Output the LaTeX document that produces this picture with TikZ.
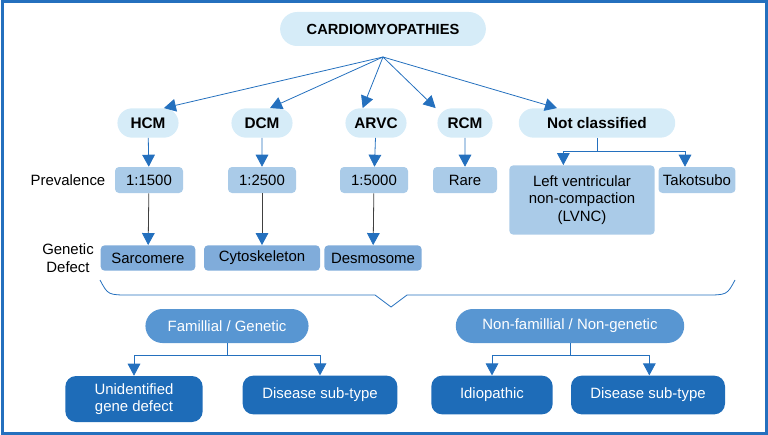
\documentclass[tikz,border=0pt]{standalone}
\usepackage{fontspec}
\setmainfont{Liberation Sans}
\usetikzlibrary{shapes.misc, arrows.meta, positioning}
\definecolor{frameblue}{RGB}{36, 112, 190}
\definecolor{paleblue}{RGB}{214, 236, 248}
\definecolor{lightblue}{RGB}{170, 203, 232}
\definecolor{midblue}{RGB}{128, 172, 218}
\definecolor{pillblue}{RGB}{88, 150, 210}
\definecolor{darkblue}{RGB}{30, 108, 184}
\tikzstyle{title} = [rounded rectangle, minimum width=161pt, minimum height=25.5pt, fill=paleblue, font=\bfseries\fontsize{11}{13}\selectfont]
\tikzstyle{kind} = [rounded rectangle, minimum width=52.5pt, minimum height=22pt, fill=paleblue, font=\bfseries\fontsize{11.5}{13}\selectfont]
\tikzstyle{prev} = [rectangle, rounded corners=3pt, minimum width=51pt, minimum height=19.5pt, fill=lightblue, font=\fontsize{11.2}{13}\selectfont, align=center]
\tikzstyle{defect} = [rectangle, rounded corners=3pt, minimum height=19pt, fill=midblue, font=\fontsize{11.2}{13}\selectfont]
\tikzstyle{origin} = [rounded rectangle, minimum height=25.5pt, fill=pillblue, text=white, font=\fontsize{11.2}{13}\selectfont]
\tikzstyle{leaf} = [rectangle, rounded corners=8pt, minimum height=29pt, fill=darkblue, text=white, font=\fontsize{11.2}{13}\selectfont, align=center]
\tikzstyle{label} = [font=\fontsize{11.2}{13}\selectfont, align=center]
\tikzstyle{arrow} = [draw=frameblue, line width=0.6pt, -{Triangle[width=9.5pt,length=9pt]}, frameblue]
\tikzstyle{grey arrow} = [draw=black!75, line width=0.6pt, -{Triangle[width=9.5pt,length=9pt,color=frameblue]}]

\begin{document}
\begin{tikzpicture}[x=0.75pt, y=-0.75pt]
    \useasboundingbox (0,0) rectangle (768,435);
    \draw[frameblue, line width=2.25pt] (2,2) rectangle (766,433);

    \node[title] (cardio) at (383,29) {CARDIOMYOPATHIES};
    \coordinate (hub) at (383,57);
    \node[kind] (hcm) at (148,123) {HCM};
    \node[kind] (dcm) at (262,123) {DCM};
    \node[kind] (arvc) at (376,123) {ARVC};
    \node[kind, minimum width=48pt] (rcm) at (465,123) {RCM};
    \node[kind, minimum width=124pt] (nc) at (597,123) {Not classified};

    \node[prev] (p1) at (149,180) {1:1500};
    \node[prev] (p2) at (262,180) {1:2500};
    \node[prev] (p3) at (374,180) {1:5000};
    \node[prev, minimum width=48pt] (p4) at (465,180) {Rare};
    \node[prev, minimum width=109pt, minimum height=52pt] (lvnc) at (582,200) {Left ventricular\\non-compaction\\(LVNC)};
    \node[prev, minimum width=56pt] (tako) at (697,180) {Takotsubo};
    \node[label, anchor=east] (prevlbl) at (110,180) {Prevalence};

    \node[defect, minimum width=71pt] (d1) at (148,258) {Sarcomere};
    \node[defect, minimum width=87pt] (d2) at (262,258) {Cytoskeleton};
    \node[defect, minimum width=73pt] (d3) at (373,258) {Desmosome};
    \node[label] (deflbl) at (68,258) {Genetic\\Defect};

    \draw[frameblue, line width=0.6pt] (100,280) .. controls (108,295) .. (130,295) -- (375,295) -- (391,307) -- (407,295) -- (705,295) .. controls (727,295) .. (735,280);

    \node[origin, minimum width=129pt] (fam) at (227,326) {Famillial / Genetic};
    \node[origin, minimum width=178pt] (nonfam) at (570,326) {Non-famillial / Non-genetic};
    \node[leaf, minimum width=103pt, minimum height=34.5pt] (unid) at (134,399) {Unidentified\\gene defect};
    \node[leaf, minimum width=116pt] (sub1) at (320,395) {Disease sub-type};
    \node[leaf, minimum width=91pt] (idio) at (492,395) {Idiopathic};
    \node[leaf, minimum width=115.5pt] (sub2) at (648,395) {Disease sub-type};

    \draw[arrow] (hub) -- (hcm.north east);
    \draw[arrow] (hub) -- ([xshift=6pt]dcm.north);
    \draw[arrow] (hub) -- ([xshift=-10pt]arvc.north);
    \draw[arrow] (hub) -- ([xshift=-22pt]rcm.north);
    \draw[arrow] (hub) -- ([xshift=-30pt]nc.north);

    \draw[arrow] (hcm) -- (p1);
    \draw[arrow] (dcm) -- (p2);
    \draw[arrow] (arvc) -- (p3);
    \draw[arrow] (rcm) -- (p4);
    \draw[grey arrow] (p1) -- (d1);
    \draw[grey arrow] (p2) -- (d2);
    \draw[grey arrow] (p3) -- (d3);

    \draw[arrow] (nc.south) -- ++(0,13) -| ([xshift=-14pt]lvnc.north);
    \draw[arrow] (nc.south) -- ++(0,13) -| ([xshift=-9pt]tako.north);
    \draw[arrow] (fam.south) -- ++(0,12) -| (unid.north);
    \draw[arrow] (fam.south) -- ++(0,12) -| (sub1.north);
    \draw[arrow] (nonfam.south) -- ++(0,12) -| (idio.north);
    \draw[arrow] (nonfam.south) -- ++(0,12) -| ([xshift=1pt]sub2.north);
\end{tikzpicture}
\end{document}
